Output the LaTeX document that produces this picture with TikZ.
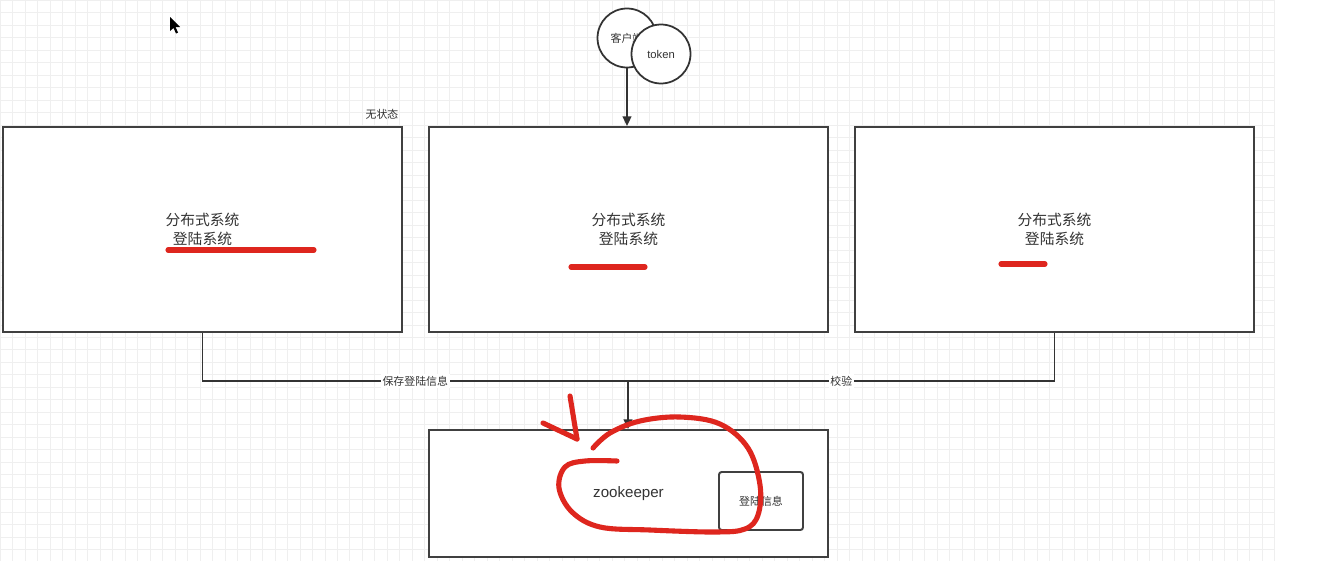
\documentclass[tikz,border=0pt]{standalone}
\usepackage{fontspec}
\setmainfont{Liberation Sans}
\newfontfamily\cjk{Noto Sans CJK SC}
\usetikzlibrary{arrows.meta}

\definecolor{penred}{RGB}{222,38,30}
\definecolor{gridgray}{RGB}{239,239,239}

\tikzset{
	sysbox/.style={draw=black!75, line width=1.1pt, fill=white, minimum width=7.98cm, minimum height=4.1cm, inner sep=0pt, align=center, font=\cjk\fontsize{8.4}{10.8}\selectfont, text=black!80},
	infobox/.style={draw=black!75, line width=1.1pt, fill=white, rounded corners=1.5pt, minimum width=1.68cm, minimum height=1.16cm, inner sep=0pt, font=\cjk\fontsize{6.2}{7}\selectfont, text=black!80},
	bubble/.style={circle, draw=black!80, line width=1pt, fill=white, minimum size=1.18cm, inner sep=0pt, text=black!80},
	conn/.style={draw=black!80, line width=0.9pt},
	arr/.style={conn, -{Triangle[length=5.5pt,width=5pt]}},
	tag/.style={fill=white, inner sep=1pt, font=\cjk\fontsize{6.2}{7}\selectfont, text=black!80},
	pen/.style={draw=penred, line width=2.9pt, line cap=round, line join=round}
}

\begin{document}
\begin{tikzpicture}[x=0.02cm, y=-0.02cm]
	%%%%% START %%%%%
	\useasboundingbox (0,0) rectangle (1335,561);
	\fill[white] (0,0) rectangle (1335,561);
	\draw[gridgray, line width=0.5pt, step=0.25cm] (0,0) grid (1275,561);

	% mouse pointer
	\fill[black] (170,17) -- (170,31) -- (173.5,28) -- (176,33.5) -- (178,32.5) -- (175.5,27) -- (180,27) -- cycle;

	% three login systems
	\node[sysbox] (sysA) at (202.5,229.5) {分布式系统\\登陆系统};
	\node[sysbox] (sysB) at (628.5,229.5) {分布式系统\\登陆系统};
	\node[sysbox] (sysC) at (1054.5,229.5) {分布式系统\\登陆系统};
	\node[tag, fill=none] (stateless) at (382,114) {无状态};

	% client with token
	\node[bubble, font=\cjk\fontsize{6.2}{7}\selectfont] (client) at (627,38) {客户端};
	\node[bubble, font=\fontsize{6.4}{7}\selectfont] (token) at (661,54) {token};
	\draw[arr] (client.south) -- (client.south |- sysB.north);

	% zookeeper
	\node[sysbox, minimum height=2.54cm, font=\fontsize{8.6}{10}\selectfont] (zk) at (628.5,493.5) {zookeeper};
	\node[infobox] (info) at (761,501) {登陆信息};

	% connectors
	\coordinate (bus) at (628,381);
	\draw[conn] (sysA.south) |- node[tag, pos=0.75] (save) {保存登陆信息} (bus);
	\draw[conn] (sysC.south) |- node[tag, pos=0.75] (check) {校验} (bus);
	\draw[arr] (bus) -- (bus |- zk.north);

	% red pen marks
	\draw[pen] (168,250) -- (314,250);
	\draw[pen] (571,267) -- (645,267);
	\draw[pen] (1001,264) -- (1045,264);
	\draw[pen] (570,396) -- (577,439);
	\draw[pen] (543,423) -- (577,439);
	\draw[pen] plot[smooth, tension=0.6] coordinates {(593,448) (610,433) (640,421) (680,417) (720,424) (748,448) (760,485) (758,515) (745,529) (715,532) (650,530) (600,527) (572,512) (559,488) (565,467) (585,461) (617,461)};
	%%%%% END %%%%%
\end{tikzpicture}
\end{document}
